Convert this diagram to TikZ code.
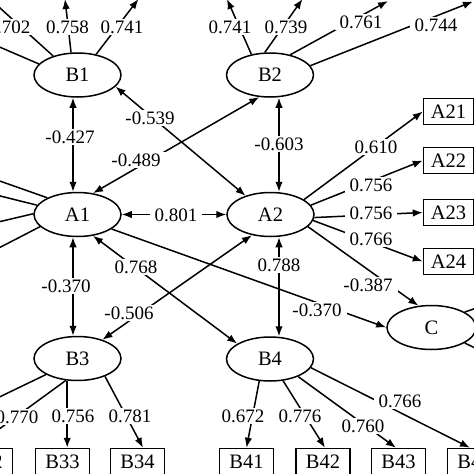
\documentclass[tikz,border=0pt]{standalone}
\usepackage{fontspec}
\setmainfont{Liberation Serif}
\usetikzlibrary{arrows.meta,shapes.geometric,calc}
\begin{document}
\begin{tikzpicture}[x=1pt,y=-1pt,
  lat/.style={draw, ellipse, line width=1.5pt, minimum width=87pt, minimum height=44pt, inner sep=1pt, font=\fontsize{20.5}{22}\selectfont},
  obs/.style={draw, rectangle, line width=1.5pt, minimum width=54pt, minimum height=26pt, inner sep=1pt, font=\fontsize{20.5}{22}\selectfont},
  obsr/.style={obs, minimum width=50pt},
  lbl/.style={fill=white, inner xsep=5pt, inner ysep=2pt, font=\fontsize{19}{21}\selectfont},
  ln/.style={line width=1.5pt},
  ar/.style={ln, -{Latex[length=10pt,width=7.5pt]}},
  dar/.style={ln, {Latex[length=10pt,width=7.5pt]}-{Latex[length=10pt,width=7.5pt]}},
]
\clip (0,0) rectangle (474,474);
% latent variables
\node[lat] (B1) at (77.5,75) {B1};
\node[lat] (B2) at (270,75) {B2};
\node[lat] (A1) at (77.5,214.5) {A1};
\node[lat] (A2) at (270.5,214.5) {A2};
\node[lat] (B3) at (77.5,358.5) {B3};
\node[lat] (B4) at (270,359) {B4};
\node[lat, minimum width=89pt] (C) at (431.5,327.5) {C};
% observed variables
\node[obsr] (A21) at (448.5,111.5) {A21};
\node[obsr] (A22) at (448.5,160.5) {A22};
\node[obsr] (A23) at (448.5,212.5) {A23};
\node[obsr] (A24) at (448.5,261.5) {A24};
\node[obs] (B32) at (-14.5,461.5) {B32};
\node[obs] (B33) at (62.5,461.5) {B33};
\node[obs] (B34) at (137.5,461.5) {B34};
\node[obs] (B41) at (246.5,461.5) {B41};
\node[obs] (B42) at (323,461.5) {B42};
\node[obs] (B43) at (398.5,461.5) {B43};
\node[obs] (B44) at (474.5,461.5) {B44};
% free ends (indicators outside the frame)
\coordinate (b11) at (-40,30);
\coordinate (b12) at (-10,-1);
\coordinate (b13) at (65,-1);
\coordinate (b14) at (138.5,-1);
\coordinate (b21) at (227,-1);
\coordinate (b22) at (302.5,-1);
\coordinate (b23) at (388,1);
\coordinate (b24) at (473,1.5);
\coordinate (a11) at (-40,167);
\coordinate (a12) at (-40,186);
\coordinate (a13) at (-40,231);
\coordinate (a14) at (-40,268);
\coordinate (b31) at (-40,416);
\coordinate (c1) at (500,300);
\coordinate (c2) at (500,360);
% indicator paths
\draw[ar] (B1.164) -- (b11);
\draw[ar] (B1.142) -- (b12);
\draw[ar] (B1.106) -- (b13);
\draw[ar] (B1.48) -- (b14);
\draw[ar] (B2.132) -- (b21);
\draw[ar] (B2.103) -- (b22);
\draw[ar] (B2.45) -- (b23);
\draw[ar] (B2.13) -- (b24);
\draw[ar] (A1.151) -- (a11);
\draw[ar] (A1.167) -- (a12);
\draw[ar] (A1.179) -- (a13);
\draw[ar] (A1.198) -- (a14);
\draw[ar] (A2.24) -- (A21.west);
\draw[ar] (A2.13) -- (A22.west);
\draw[ar] (A2.356) -- (A23.west);
\draw[ar] (A2.352) -- (A24.west);
\draw[ar] (B3.207) -- (b31);
\draw[ar] (B3.242) -- ([xshift=-12pt]B32.north);
\draw[ar] (B3.245) -- (B3.245 |- B33.north);
\draw[ar] (B3.327) -- ([xshift=5.5pt]B34.north);
\draw[ar] (B4.244) -- (B41.north);
\draw[ar] (B4.301) -- ([xshift=2pt]B42.north);
\draw[ar] (B4.328) -- ([xshift=-2.5pt]B43.north);
\draw[ar] (B4.348) -- ([xshift=-4.5pt]B44.north);
\draw[ar] (C.25) -- (c1);
\draw[ar] (C.335) -- (c2);
% structural paths
\draw[dar] ([xshift=-4.5pt]B1.south) -- ([xshift=-4.5pt]A1.north);
\draw[dar] (B1.343) -- (A2.143);
\draw[dar] (A1.54) -- (B2.244);
\draw[dar] (A1.east) -- (A2.west);
\draw[dar] ([xshift=9pt]B2.south) -- ([xshift=8.5pt]A2.north);
\draw[dar] ([xshift=-4.5pt]A1.south) -- ([xshift=-4.5pt]B3.north);
\draw[dar] (A1.306) -- (B4.155);
\draw[dar] (B3.37) -- (A2.228);
\draw[dar] ([xshift=8.5pt]A2.south) -- ([xshift=9pt]B4.north);
\draw[ar] (A1.337) -- (C.west);
\draw[ar] (A2.342) -- (C.121);
% labels
\node[lbl] (l1) at (9,27) {0.702};
\node[lbl] (l2) at (67.5,27) {0.758};
\node[lbl] (l3) at (122,27) {0.741};
\node[lbl] (l4) at (230,27) {0.741};
\node[lbl] (l5) at (286,27) {0.739};
\node[lbl] (l6) at (361,22) {0.761};
\node[lbl] (l7) at (436,25) {0.744};
\node[lbl] (l8) at (70,137) {-0.427};
\node[lbl] (l9) at (150,118) {-0.539};
\node[lbl] (l10) at (136,160) {-0.489};
\node[lbl] (l11) at (279,144) {-0.603};
\node[lbl] (l12) at (176,215) {0.801};
\node[lbl] (l13) at (66,286) {-0.370};
\node[lbl] (l14) at (136,267) {0.768};
\node[lbl] (l15) at (129,313) {-0.506};
\node[lbl] (l16) at (279,265) {0.788};
\node[lbl] (l17) at (317,310) {-0.370};
\node[lbl] (l18) at (368,285) {-0.387};
\node[lbl] (l19) at (376,147) {0.610};
\node[lbl] (l20) at (371,185) {0.756};
\node[lbl] (l21) at (371,213) {0.756};
\node[lbl] (l22) at (371,239) {0.766};
\node[lbl] (l23) at (17,417) {0.770};
\node[lbl] (l24) at (73,416) {0.756};
\node[lbl] (l25) at (130,416) {0.781};
\node[lbl] (l26) at (243,416) {0.672};
\node[lbl] (l27) at (300,416) {0.776};
\node[lbl] (l28) at (363,426) {0.760};
\node[lbl] (l29) at (400,401) {0.766};
\end{tikzpicture}
\end{document}
